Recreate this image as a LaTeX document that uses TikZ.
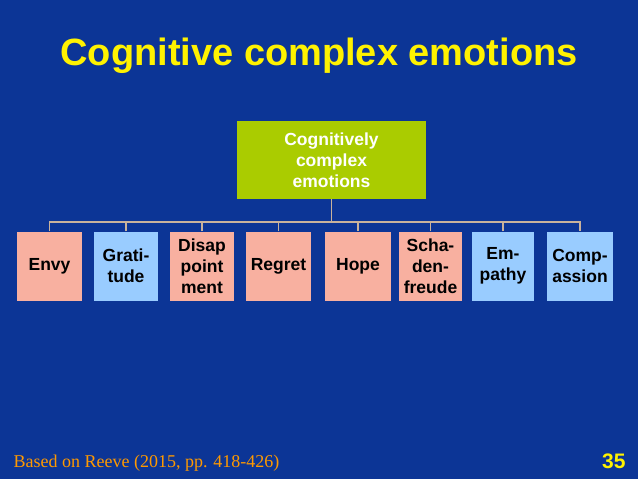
\documentclass[tikz,border=0pt]{standalone}
\usepackage{fontspec}
\setmainfont{Liberation Sans}
\newfontfamily\footf{Liberation Serif}
\begin{document}
\begin{tikzpicture}[x=1pt,y=-1pt,
  box/.style={draw=none,minimum height=69pt,inner sep=0pt,align=center,font=\fontsize{17.5}{21}\selectfont\bfseries,text=black},
  pk/.style={box,fill=pinkc},
  bl/.style={box,fill=bluec},
  con/.style={draw=gray!40!brown!60,line width=1.5pt}]
\definecolor{bg}{HTML}{0C3596}
\definecolor{pinkc}{HTML}{F8B0A0}
\definecolor{bluec}{HTML}{99CCFF}
\definecolor{greenc}{HTML}{AACC00}
\fill[bg] (0,0) rectangle (638,479);
\useasboundingbox (0,0) rectangle (638,479);
\node[font=\fontsize{38}{42}\selectfont\bfseries,text=yellow] (title) at (319,56) {Cognitive complex emotions};
\node[box,fill=greenc,minimum width=189pt,minimum height=78pt,text=white] (top) at (331.5,160) {Cognitively\\complex\\emotions};
\coordinate (bar) at (331.5,222);
\node[pk,minimum width=65pt] (b1) at (49.5,266) {Envy};
\node[bl,minimum width=64pt] (b2) at (126,266) {Grati-\\tude};
\node[pk,minimum width=64pt] (b3) at (202,266) {Disap\\point\\ment};
\node[pk,minimum width=65pt] (b4) at (278.5,266) {Regret};
\node[pk,minimum width=66pt] (b5) at (358,266) {Hope};
\node[pk,minimum width=63pt] (b6) at (430.5,266) {Scha-\\den-\\freude};
\node[bl,minimum width=62pt] (b7) at (503,266) {Em-\\pathy};
\node[bl,minimum width=66pt] (b8) at (580,266) {Comp-\\assion};
\draw[con] (top.south) -- (bar);
\draw[con] (b1.north) |- (bar) -| (b8.north);
\foreach \b in {b2,b3,b4,b5,b6,b7} \draw[con] (\b.north) -- (\b.north |- bar);
\node[anchor=west,text=orange!80!yellow,font=\footf\fontsize{18}{20}\selectfont] (src) at (10,463) {Based on Reeve (2015, pp. 418-426)};
\node[anchor=east,text=yellow,font=\fontsize{21}{24}\selectfont\bfseries] (num) at (629,461) {35};
\end{tikzpicture}
\end{document}
